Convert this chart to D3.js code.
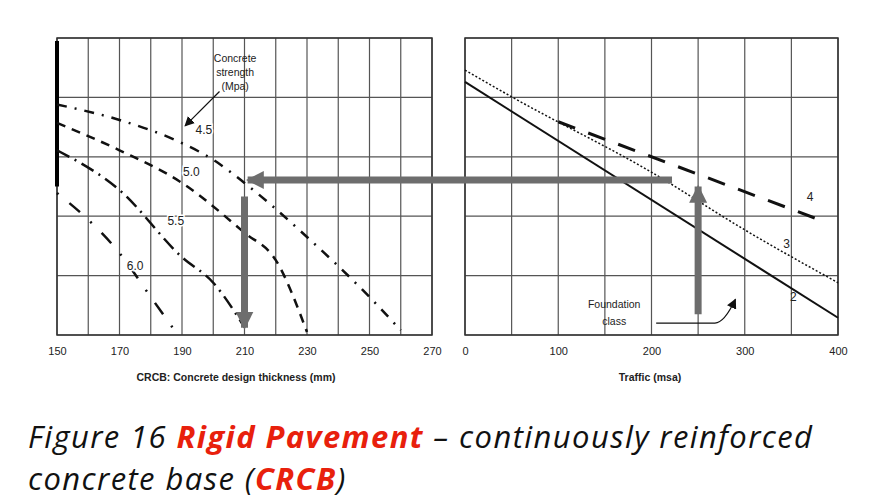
<!DOCTYPE html>
<html><head><meta charset="utf-8">
<script src="https://cdn.jsdelivr.net/npm/d3@7"></script>
<style>body{margin:0;background:#fff}</style></head>
<body><svg id="c" width="896" height="501"></svg>
<script>
const thickTicks=[150,170,190,210,230,250,270];
const trafficTicks=[0,100,200,300,400];
// level: relative position up the shared vertical axis (0 = bottom, 5 = top)
const s45=[[150,3.88],[170,3.62],[190,3.23],[200,2.95],[210,2.56],[230,1.65],[250,0.64],[260,0.08]];
const s50=[[150,3.57],[170,3.11],[190,2.56],[210,1.72],[220,1.26],[230,0.05]];
const s55=[[150,3.11],[170,2.44],[190,1.31],[200,0.88],[210,0.13]];
const s60=[[150,2.39],[160,1.94],[170,1.38],[180,0.64],[188,0.05]];
const fc2=[[0,4.26],[400,0.29]];
const fc3=[[0,4.46],[50,4.01],[200,2.74],[300,1.77],[400,0.88]];
const fc4=[[100,3.59],[375,1.97]];
const strengthLabels=[["4.5",197,3.38],["5.0",193,2.68],["5.5",188,1.85],["6.0",175,1.09]];
const classLabels=[["2",352,0.58],["3",345,1.46],["4",370,2.25]];

const svg=d3.select("#c");
const xL=d3.scaleLinear().domain([150,270]).range([57,432]);
const xR=d3.scaleLinear().domain([0,400]).range([465,838]);
const y=d3.scaleLinear().domain([0,5]).range([335,38]);
const F="Liberation Sans, Arial, sans-serif";

function panel(x,ticks,step,title,cx){
  const g=svg.append("g");
  const [a,b]=x.domain();
  g.selectAll(".v").data(d3.range(a,b+0.001,step)).join("line")
   .attr("x1",d=>x(d)).attr("x2",d=>x(d)).attr("y1",y(5)).attr("y2",y(0))
   .attr("stroke","#555").attr("stroke-width",1.2);
  g.selectAll(".h").data(d3.range(0,5.01,1)).join("line")
   .attr("x1",x(a)).attr("x2",x(b)).attr("y1",d=>y(d)).attr("y2",d=>y(d))
   .attr("stroke","#555").attr("stroke-width",1.2);
  g.append("rect").attr("x",x(a)).attr("y",y(5)).attr("width",x(b)-x(a)).attr("height",y(0)-y(5))
   .attr("fill","none").attr("stroke","#333").attr("stroke-width",1.5);
  const ax=g.append("g").attr("transform",`translate(0,${y(0)})`)
   .call(d3.axisBottom(x).tickValues(ticks).tickSize(0).tickPadding(12).tickFormat(d3.format("d")));
  ax.select(".domain").remove();
  ax.selectAll("text").attr("font-family",F).attr("font-size",11).attr("fill","#222");
  g.append("text").attr("x",cx).attr("y",381).attr("text-anchor","middle")
   .attr("font-family",F).attr("font-size",10.5).attr("font-weight","bold").attr("fill","#222").text(title);
}
panel(xL,thickTicks,10,"CRCB: Concrete design thickness (mm)",236);
panel(xR,trafficTicks,50,"Traffic (msa)",650);
svg.append("line").attr("x1",xL(150)).attr("x2",xL(150)).attr("y1",y(4.95)).attr("y2",y(2.5))
  .attr("stroke","#000").attr("stroke-width",4);

function curve(data,x,dash,w){
  svg.append("path").datum(data)
   .attr("d",d3.line().x(d=>x(d[0])).y(d=>y(d[1])).curve(d3.curveMonotoneX))
   .attr("fill","none").attr("stroke","#111").attr("stroke-width",w).attr("stroke-dasharray",dash);
}
curve(s45,xL,"10,8,2,8",2.5);
curve(s50,xL,"9,7",2.5);
curve(s55,xL,"14,6,2,6",2.5);
curve(s60,xL,"2,14,14,14",2.5);
curve(fc2,xR,null,2);
curve(fc3,xR,"2,2",1.5);
curve(fc4,xR,"18,14",3);

svg.selectAll(".sl").data(strengthLabels).join("text")
  .attr("x",d=>xL(d[1])).attr("y",d=>y(d[2])).attr("text-anchor","middle")
  .attr("font-family",F).attr("font-size",12).attr("fill","#222")
  .style("paint-order","stroke").attr("stroke","#fff").attr("stroke-width",3).text(d=>d[0]);
svg.selectAll(".cl").data(classLabels).join("text")
  .attr("x",d=>xR(d[1])).attr("y",d=>y(d[2])).attr("text-anchor","middle")
  .attr("font-family",F).attr("font-size",12).attr("fill","#222").text(d=>d[0]);

// annotations
const defs=svg.append("defs");
function head(id,col,size){
  defs.append("marker").attr("id",id).attr("viewBox","0 0 10 10").attr("refX",9).attr("refY",5)
   .attr("markerWidth",size).attr("markerHeight",size).attr("orient","auto").attr("markerUnits","userSpaceOnUse")
   .append("path").attr("d","M0,0L10,5L0,10Z").attr("fill",col);
}
head("g","#6d6d6d",18);head("k","#111",10);
const ga="#6d6d6d";
svg.append("line").attr("x1",xR(222)).attr("x2",xL(211)).attr("y1",y(2.61)).attr("y2",y(2.61))
  .attr("stroke",ga).attr("stroke-width",7).attr("marker-end","url(#g)");
svg.append("line").attr("x1",xL(210)).attr("x2",xL(210)).attr("y1",y(2.33)).attr("y2",y(0.12))
  .attr("stroke",ga).attr("stroke-width",7).attr("marker-end","url(#g)");
svg.append("line").attr("x1",xR(250)).attr("x2",xR(250)).attr("y1",y(0.35)).attr("y2",y(2.5))
  .attr("stroke",ga).attr("stroke-width",7).attr("marker-end","url(#g)");

const ct=svg.append("text").attr("text-anchor","middle").attr("font-family",F).attr("font-size",10.5).attr("fill","#222");
["Concrete","strength","(Mpa)"].forEach((t,i)=>ct.append("tspan").attr("x",xL(207)).attr("y",62+i*14).text(t));
svg.append("path").attr("d",`M${xL(202)},${y(4.1)} L${xL(191)},${y(3.52)}`).attr("stroke","#111").attr("stroke-width",1.2).attr("marker-end","url(#k)");
const ft=svg.append("text").attr("text-anchor","middle").attr("font-family",F).attr("font-size",10.5).attr("fill","#222");
["Foundation","class"].forEach((t,i)=>ft.append("tspan").attr("x",xR(160)).attr("y",308+i*17).text(t));
svg.append("path").attr("d",`M${xR(205)},${y(0.2)} L${xR(268)},${y(0.2)} Q${xR(278)},${y(0.2)} ${xR(290)},${y(0.6)}`)
  .attr("fill","none").attr("stroke","#111").attr("stroke-width",1.2).attr("marker-end","url(#k)");

// caption
const CF="Open Sans, sans-serif";
function cap(yy){return svg.append("text").attr("x",28).attr("y",yy).attr("font-family",CF).attr("font-size",31)
  .attr("letter-spacing",1.4).attr("font-style","italic").attr("fill","#111");}
const c1=cap(448);
c1.append("tspan").text("Figure 16 ");
c1.append("tspan").attr("fill","#e8200c").attr("font-weight","bold").text("Rigid Pavement");
c1.append("tspan").text(" – continuously reinforced");
const c2=cap(490);
c2.append("tspan").text("concrete base (");
c2.append("tspan").attr("fill","#e8200c").attr("font-weight","bold").text("CRCB");
c2.append("tspan").text(")");
</script></body></html>
